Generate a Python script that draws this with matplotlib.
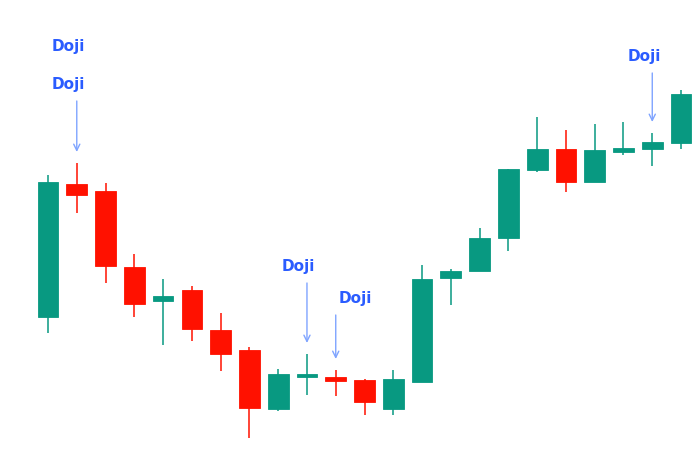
import matplotlib
matplotlib.use("Agg")
import matplotlib.pyplot as plt

# OHLC (arbitrary price scale)
opens  = [142, 275, 268, 192, 158, 169, 129, 109, 50, 82, 82, 79, 50, 77, 181, 188, 221, 289, 310, 277, 307, 310, 316]
highs  = [284, 296, 276, 205, 180, 173, 146, 112, 90, 105, 89, 80, 89, 194, 190, 231, 290, 342, 329, 335, 337, 326, 369]
lows   = [126, 246, 176, 142, 114, 118, 88, 21, 48, 64, 63, 44, 44, 77, 154, 188, 208, 287, 267, 277, 304, 293, 310]
closes = [277, 264, 193, 155, 163, 130, 105, 51, 85, 85, 78, 57, 80, 180, 188, 221, 290, 310, 277, 309, 311, 317, 365]

# doji callouts: candle index, arrow length, how many labels stacked, label x shift
doji_idx = [1, 9, 10, 21]
doji_arrow = [51, 60, 44, 49]
doji_count = [2, 1, 1, 1]
doji_dx = [-0.31, -0.31, 0.69, -0.28]

GREEN = "#089981"
RED = "#ff1100"
BLUE = "#2a5cff"
ARROW = "#7fa4ff"

fig = plt.figure(figsize=(6.96, 4.60), dpi=100)
ax = fig.add_axes([0, 0, 1, 1])

x = list(range(len(opens)))
cols = [GREEN if c >= o else RED for o, c in zip(opens, closes)]

ax.vlines(x, lows, highs, colors=cols, linewidth=1.1, zorder=1)
ax.bar(x, [c - o for o, c in zip(opens, closes)], bottom=opens, width=0.72,
       color=cols, edgecolor=cols, linewidth=0.6, zorder=2)

for i, ln, n, dx in zip(doji_idx, doji_arrow, doji_count, doji_dx):
    tip = highs[i] + 11
    start = tip + ln
    ax.annotate("", xy=(i, tip), xytext=(i, start),
                arrowprops=dict(arrowstyle="->,head_length=0.45,head_width=0.22",
                                color=ARROW, lw=1.0, shrinkA=0, shrinkB=0))
    for k in range(n):
        ax.text(i + dx, start + 17 + 38 * k, "Doji", color=BLUE, fontsize=11,
                fontweight="bold", ha="center", va="center")

ax.set_xlim(-1.668, 22.52)
ax.set_ylim(0, 460)
ax.axis("off")

fig.savefig("out.png", dpi=100, facecolor="white")
